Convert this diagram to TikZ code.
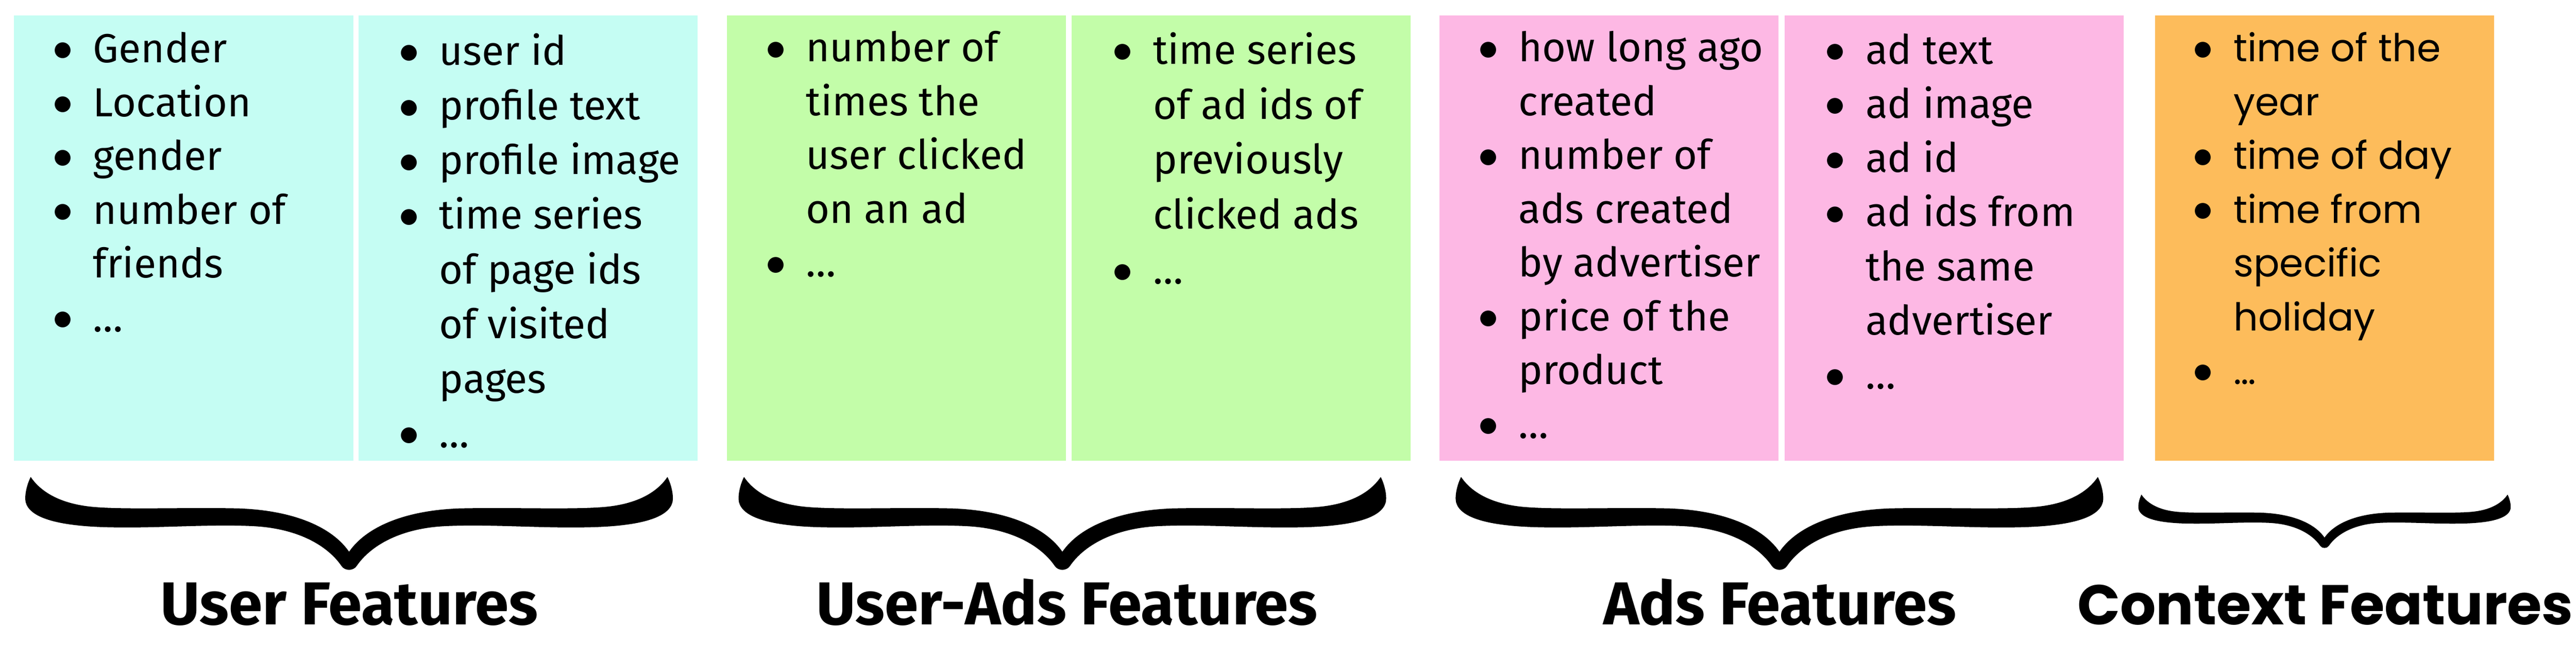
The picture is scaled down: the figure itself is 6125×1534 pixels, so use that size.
\documentclass[tikz,border=0pt]{standalone}
\usepackage{fontspec}
\setmainfont{Fira Sans}
\newfontfamily\ctxfont{Poppins}
\newfontfamily\dotfont{DejaVu Sans}
\definecolor{cyanbox}{HTML}{C5FDF3}
\definecolor{greenbox}{HTML}{C3FDA9}
\definecolor{pinkbox}{HTML}{FDB8E4}
\definecolor{orangebox}{HTML}{FDBC5B}
\newcommand\bl{\llap{\makebox[41pt]{\raisebox{4.4pt}{\dotfont\fontsize{14pt}{14pt}\selectfont ●}}}}
\tikzset{
  itemtext/.style={anchor=base west, inner sep=0pt, font=\fontsize{27.5pt}{33pt}\selectfont},
  ctxtext/.style={anchor=base west, inner sep=0pt, font=\ctxfont\fontsize{26pt}{33pt}\selectfont},
  grouplabel/.style={anchor=base, inner sep=0pt, font=\bfseries\fontsize{41pt}{45pt}\selectfont},
  featbrace/.pic={
    \fill (-757,0) .. controls (-767,20) and (-772,45) .. (-769,60)
      .. controls (-760,95) and (-700,118) .. (-560,120)
      .. controls (-450,122) and (-330,112) .. (-230,117)
      .. controls (-120,122) and (-50,165) .. (-18,212)
      .. controls (-10,224) and (10,224) .. (18,212)
      .. controls (50,165) and (120,122) .. (230,117)
      .. controls (330,112) and (450,122) .. (560,120)
      .. controls (700,118) and (760,95) .. (769,60)
      .. controls (772,45) and (767,20) .. (757,0)
      .. controls (740,25) and (700,65) .. (600,72)
      .. controls (520,78) and (380,72) .. (260,75)
      .. controls (130,80) and (40,120) .. (0,178)
      .. controls (-40,120) and (-130,80) .. (-260,75)
      .. controls (-380,72) and (-520,78) .. (-600,72)
      .. controls (-700,65) and (-740,25) .. cycle;
  }
}
\begin{document}
\begin{tikzpicture}[x=0.01cm,y=-0.01cm]
\useasboundingbox (0,0) rectangle (6125,1534);
\fill[white] (0,0) rectangle (6125,1534);
% boxes
\fill[cyanbox] (33,37) rectangle (840,1096);
\fill[cyanbox] (853,37) rectangle (1659,1096);
\fill[greenbox] (1728,37) rectangle (2535,1096);
\fill[greenbox] (2548,37) rectangle (3354,1096);
\fill[pinkbox] (3423,37) rectangle (4229,1096);
\fill[pinkbox] (4243,37) rectangle (5049,1096);
\fill[orangebox] (5124,37) rectangle (5930,1096);
% cyan A
\foreach \t [count=\i] in {{\bl Gender},{\bl Location},{\bl gender},{\bl number of},{friends},{\bl \dots}}
  \node[itemtext] (ca\i) at (221,{149+(\i-1)*128}) {\t};
% cyan B
\foreach \t [count=\i] in {{\bl user id},{\bl profile text},{\bl profile image},{\bl time series},{of page ids},{of visited},{pages},{\bl \dots}}
  \node[itemtext] (cb\i) at (1044,{155+(\i-1)*130}) {\t};
% green A
\foreach \t [count=\i] in {{\bl number of},{times the},{user clicked},{on an ad},{\bl \dots}}
  \node[itemtext] (ga\i) at (1916,{147+(\i-1)*128}) {\t};
% green B
\foreach \t [count=\i] in {{\bl time series},{of ad ids of},{previously},{clicked ads},{\bl \dots}}
  \node[itemtext] (gb\i) at (2741,{152+(\i-1)*131}) {\t};
% pink A
\foreach \t [count=\i] in {{\bl how long ago},{created},{\bl number of},{ads created},{by advertiser},{\bl price of the},{product},{\bl \dots}}
  \node[itemtext] (pa\i) at (3610,{147+(\i-1)*128}) {\t};
% pink B
\foreach \t [count=\i] in {{\bl ad text},{\bl ad image},{\bl ad id},{\bl ad ids from},{the same},{advertiser},{\bl \dots}}
  \node[itemtext] (pb\i) at (4435,{152+(\i-1)*129}) {\t};
% orange
\foreach \t [count=\i] in {{\bl time of the},{year},{\bl time of day},{\bl time from},{specific},{holiday},{\bl \dots}}
  \node[ctxtext] (oa\i) at (5310,{147+(\i-1)*128}) {\t};
% braces
\pic at (830,1135) {featbrace};
\pic at (2526,1135) {featbrace};
\pic at (4231,1135) {featbrace};
\pic[scale=0.575] at (5527,1177) {featbrace};
% labels
\node[grouplabel] (l1) at (830,1487) {User Features};
\node[grouplabel] (l2) at (2537,1487) {User-Ads Features};
\node[grouplabel] (l3) at (4232,1487) {Ads Features};
\node[grouplabel, font=\ctxfont\bfseries\fontsize{38pt}{40pt}\selectfont] (l4) at (5529,1487) {Context Features};
\end{tikzpicture}
\end{document}
